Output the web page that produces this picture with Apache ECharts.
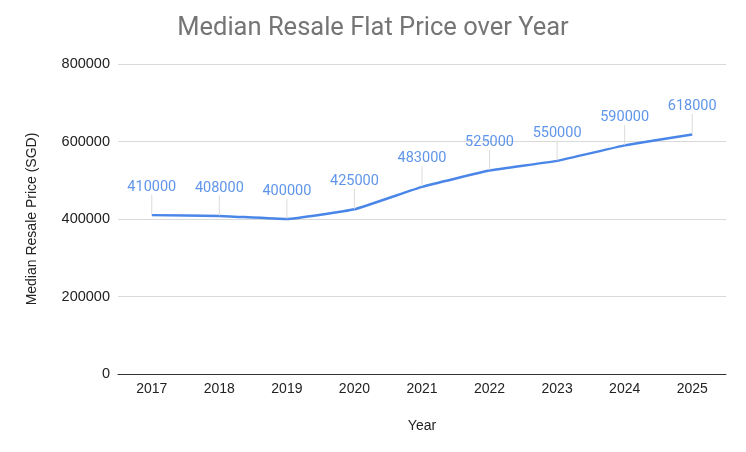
<!DOCTYPE html>
<html><head><meta charset="utf-8">
<script src="https://cdn.jsdelivr.net/npm/echarts@6/dist/echarts.min.js"></script>
<style>html,body{margin:0;padding:0;background:#fff}#c{width:746px;height:452px}</style>
</head><body><div id="c"></div>
<script>
const years = ['2017','2018','2019','2020','2021','2022','2023','2024','2025'];
const prices = [410000,408000,400000,425000,483000,525000,550000,590000,618000];
const yTicks = {min:0, max:800000, interval:200000};

const chart = echarts.init(document.getElementById('c'), null, {renderer:'canvas'});
chart.setOption({
  animation:false,
  backgroundColor:'#fff',
  title:{text:'Median Resale Flat Price over Year', left:'center', top:11,
    textStyle:{fontFamily:'Roboto', fontSize:25.5, fontWeight:'normal', color:'#757575'}},
  grid:{left:118, right:20, top:64, bottom:78},
  xAxis:{type:'category', data:years, boundaryGap:true,
    name:'Year', nameLocation:'middle', nameGap:45,
    nameTextStyle:{fontFamily:'Liberation Sans', fontSize:14, color:'#222'},
    axisLine:{lineStyle:{color:'#333', width:1}},
    axisTick:{show:false},
    axisLabel:{fontFamily:'Liberation Sans', fontSize:14, color:'#222', margin:8}},
  yAxis:{type:'value', min:yTicks.min, max:yTicks.max, interval:yTicks.interval,
    name:'Median Resale Price (SGD)', nameLocation:'middle', nameGap:79,
    nameTextStyle:{fontFamily:'Liberation Sans', fontSize:14, color:'#222'},
    axisLine:{show:false}, axisTick:{show:false},
    axisLabel:{fontFamily:'Liberation Sans', fontSize:14.5, color:'#222', margin:8,
      formatter:v=>String(v)},
    splitLine:{lineStyle:{color:'#d9d9d9', width:1}}},
  series:[{
    type:'line', data:prices, smooth:0.1, symbol:'circle', symbolSize:1, showSymbol:true,
    lineStyle:{color:'#4a86e8', width:2.5},
    itemStyle:{color:'rgba(0,0,0,0)', borderWidth:0},
    label:{show:true, position:'top', distance:4, fontFamily:'Roboto', fontSize:14.5, color:'#6096ea',
      formatter:p=>String(p.value)},
    labelLayout:{dy:-16},
    labelLine:{show:true, lineStyle:{color:'#dcdcdc', width:1}}
  }]
});
</script></body></html>
